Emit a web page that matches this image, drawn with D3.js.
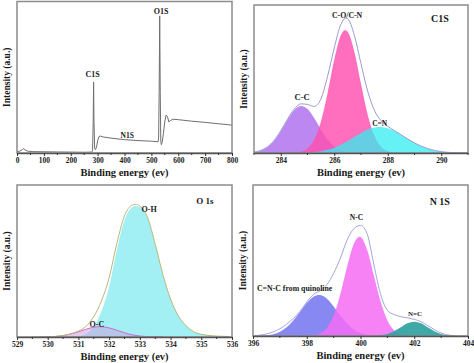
<!DOCTYPE html>
<html><head><meta charset="utf-8">
<script src="https://cdn.jsdelivr.net/npm/d3@7"></script>
<style>
body{margin:0;background:#fff}
svg{display:block}
text{font-family:"Liberation Serif","Times New Roman",serif;font-weight:bold;fill:#1a1a1a}
</style>
</head><body><svg id="c" width="474" height="363"></svg>
<script>
// ---------- DATA (binding energy eV, intensity a.u. in % of panel height) ----------
const xTitle = "Binding energy (ev)";
const yTitle = "Intensity (a.u.)";

// Survey spectrum
const surveyTicks = [0,100,200,300,400,500,600,700,800];
const surveyMinor = [50,150,250,350,450,550,650,750];
const survey = [[0,0.9],[10,1.2],[20,2.2],[25,3.0],[30,2.0],[40,1.2],[60,0.9],[100,0.8],[150,0.7],[200,0.6],[250,0.5],[278,0.6],[281,1.5],[283.5,20],[285,46.9],[286.5,20],[289,3],[292,2.2],[296,4],[300,8],[305,10.8],[310,11.2],[320,10.6],[350,9.8],[400,8.8],[450,8.2],[500,7.8],[525,7.4],[527,10],[529,40],[531,90.5],[533,40],[535,8],[537,5.5],[540,7],[545,13],[550,21],[555,25],[560,24],[565,20.5],[570,21.3],[580,22.3],[600,22.0],[650,21.0],[700,20.2],[750,19.3],[800,18.4]];
const surveyLabels = [["C1S",281,50],["N1S",410,10],["O1S",536,92]];

// C1s
const c1sTicks = [284,286,288,290];
const c1sMinor = [283,285,287,289,291];
const c1sCC = [[283,0.54],[283.25,1.58],[283.5,3.91],[283.75,8.22],[284,14.71],[284.25,22.37],[284.5,28.93],[284.75,31.78],[285,29.69],[285.25,23.57],[285.5,15.9],[285.75,9.12],[286,4.45],[286.25,1.84],[286.5,0.65],[286.75,0.19],[287,0.05],[287.25,0]];
const c1sCO = [[284.25,0.03],[284.5,0.2],[284.75,0.87],[285,3.11],[285.25,8.99],[285.5,21.14],[285.75,40.45],[286,62.94],[286.25,79.66],[286.4,83.0],[286.5,81.99],[286.75,68.65],[287,46.74],[287.25,25.89],[287.5,11.66],[287.75,4.27],[288,1.27],[288.25,0.31],[288.5,0.06],[288.75,0]];
const c1sCN = [[284.5,0.06],[285,0.32],[285.25,0.65],[285.5,1.24],[285.75,2.19],[286,3.62],[286.25,5.58],[286.5,8.03],[286.75,10.79],[287,13.52],[287.25,15.81],[287.5,17.25],[287.75,17.56],[288,16.69],[288.25,14.79],[288.5,12.24],[288.75,9.44],[289,6.8],[289.25,4.57],[289.5,2.87],[289.75,1.68],[290,0.92],[290.25,0.47],[290.5,0.22],[291,0.04]];
const c1sEnv = [[283,0.6],[283.25,1.7],[283.5,4.1],[283.75,8.5],[284,15],[284.25,22.8],[284.5,29.6],[284.75,33.2],[285,32.8],[285.25,31.5],[285.5,36.5],[285.75,51.8],[286,71],[286.25,87],[286.42,91],[286.5,90.7],[286.75,79.6],[287,60.3],[287.25,41.7],[287.5,28.9],[287.75,21.8],[288,18],[288.25,15.1],[288.5,12.3],[288.75,9.4],[289,6.8],[289.25,4.6],[289.5,2.9],[289.75,1.7],[290,0.9],[290.5,0.2],[291,0]];
const c1sLabels = [["C1S",289.95,88.5],["C-O/C-N",286.48,91],["C-C",284.8,36],["C=N",287.7,18.5]];

// O1s
const o1sTicks = [529,530,531,532,533,534,535,536];
const o1sMinor = [529.5,530.5,531.5,532.5,533.5,534.5,535.5];
const o1sOH = [[530.5,0],[531,0.5],[531.25,2],[531.5,7],[531.75,17],[532,33],[532.25,57],[532.5,77],[532.7,84.5],[532.85,86.2],[533,85.5],[533.25,78.5],[533.5,61],[533.75,41],[534,25],[534.25,14],[534.5,7.5],[534.75,3.5],[535,1.8],[535.25,1],[535.5,0.6],[535.9,0.3]];
const o1sOC = [[529.75,0],[530,0.12],[530.25,0.37],[530.5,0.92],[530.75,1.94],[531,3.44],[531.25,5.13],[531.5,6.43],[531.7,6.8],[532,6.0],[532.25,4.47],[532.5,2.8],[532.75,1.47],[533,0.65],[533.25,0.24],[533.5,0.08],[533.75,0]];
const o1sEnv = [[529.5,0],[529.75,0.02],[530,0.12],[530.25,0.37],[530.5,1.0],[530.75,2.1],[531,3.9],[531.25,7.1],[531.5,13.4],[531.75,23.8],[532,39],[532.25,61.5],[532.5,79.8],[532.75,86.8],[532.85,87.3],[533,86.2],[533.25,78.7],[533.5,61.1],[533.75,41],[534,25],[534.25,14],[534.5,7.5],[534.75,3.5],[535,1.8],[535.25,1],[535.5,0.6],[535.9,0.3]];
const o1sLabels = [["O 1s",535.12,87.5],["O-H",533.3,82.5],["O-C",531.6,6.8]];

// N1s
const n1sTicks = [396,398,400,402,404];
const n1sMinor = [397,399,401,403];
const n1sQuin = [[396,0.04],[396.25,0.15],[396.5,0.45],[396.75,1.2],[397,2.8],[397.25,5.73],[397.5,10.25],[397.75,16.0],[398,21.8],[398.25,26.05],[398.45,27.2],[398.5,27.1],[398.75,24.7],[399,19.6],[399.25,13.6],[399.5,8.26],[399.75,4.38],[400,2.03],[400.25,0.82],[400.5,0.29],[400.75,0.09],[401,0.02]];
const n1sNC = [[398,0.09],[398.25,0.44],[398.5,1.7],[398.75,5.34],[399,13.5],[399.25,27.7],[399.5,45.8],[399.75,61.0],[399.96,65.8],[400,65.6],[400.25,56.96],[400.5,39.9],[400.75,22.6],[401,10.3],[401.25,3.79],[401.5,1.13],[401.75,0.27],[402,0.05]];
const n1sNdC = [[400.5,0.11],[400.75,0.42],[401,1.29],[401.25,3.08],[401.5,5.76],[401.75,8.38],[402,9.5],[402.25,8.38],[402.5,5.76],[402.75,3.08],[403,1.29],[403.25,0.42],[403.5,0.11]];
const n1sEnv = [[396,0],[396.25,0.6],[396.5,1.3],[396.75,2.7],[397,4.8],[397.25,7.8],[397.5,11.6],[397.75,16.3],[398,22.5],[398.25,27.5],[398.5,30],[398.75,34],[399,41.5],[399.25,51.5],[399.5,63.5],[399.75,71],[400,73.2],[400.25,67.5],[400.5,47],[400.75,27.5],[401,17],[401.25,14.2],[401.5,12.8],[401.75,12],[402,11],[402.25,9.5],[402.5,7],[402.75,4.2],[403,2],[403.25,0.7],[403.5,0.2]];
const n1sLabels = [["N 1S",402.95,86.5],["N-C",399.85,76.5],["C=N-C from quinoline",397.55,29.8],["N=C",402.03,13.5]];

// ---------- DRAW ----------
const svg = d3.select("#c");
let clipId = 0;

function panel(cfg){
  const x = d3.scaleLinear().domain(cfg.xd).range([cfg.l, cfg.r]);
  const y = d3.scaleLinear().domain([0,100]).range([cfg.b, cfg.t]);
  const g = svg.append("g");
  const id = "clip" + (clipId++);
  g.append("clipPath").attr("id", id).append("rect")
    .attr("x", cfg.l).attr("y", cfg.t).attr("width", cfg.r - cfg.l).attr("height", cfg.b - cfg.t);
  const plot = g.append("g").attr("clip-path", `url(#${id})`);
  const area = d3.area().x(d=>x(d[0])).y0(y(0)).y1(d=>y(d[1])).curve(d3.curveMonotoneX);
  const line = d3.line().x(d=>x(d[0])).y(d=>y(d[1])).curve(cfg.curve || d3.curveMonotoneX);
  (cfg.fills||[]).forEach(s=>{
    plot.append("path").datum(s.data).attr("d", area)
      .attr("fill", s.fill).attr("fill-opacity", s.op)
      .attr("stroke", s.stroke || "none").attr("stroke-width", 0.8);
  });
  (cfg.lines||[]).forEach(s=>{
    plot.append("path").datum(s.data).attr("d", line)
      .attr("fill","none").attr("stroke", s.stroke).attr("stroke-width", s.w || 1);
  });
  // frame
  g.append("rect").attr("x", cfg.l).attr("y", cfg.t).attr("width", cfg.r-cfg.l).attr("height", cfg.b-cfg.t)
    .attr("fill","none").attr("stroke","#8c8c8c").attr("stroke-width",1.5);
  // axis
  const ax = g.append("g").attr("transform", `translate(0,${cfg.b})`)
    .call(d3.axisBottom(x).tickValues(cfg.ticks).tickSize(3).tickSizeOuter(0).tickFormat(d3.format("d")));
  ax.select(".domain").attr("stroke","#555").attr("stroke-width",1.3);
  ax.selectAll(".tick line").attr("stroke","#333");
  ax.selectAll(".tick text").attr("font-size", 7.5).attr("fill","#222")
    .attr("font-family",'"Liberation Serif",serif').attr("font-weight","bold").attr("y",5);
  ax.selectAll(".minor").data(cfg.minor).enter().append("line").attr("class","minor")
    .attr("x1", d=>x(d)).attr("x2", d=>x(d)).attr("y1",0).attr("y2",2).attr("stroke","#333");
  // titles
  g.append("text").attr("x", (cfg.l+cfg.r)/2).attr("y", cfg.b + 23).attr("text-anchor","middle")
    .attr("font-size", 10.5).text(xTitle);
  g.append("text").attr("transform", `translate(${cfg.l-7},${(cfg.t+cfg.b)/2}) rotate(-90)`)
    .attr("text-anchor","middle").attr("font-size", 9.5).text(yTitle);
  // labels
  cfg.labels.forEach((lb,i)=>{
    g.append("text").attr("x", x(lb[1])).attr("y", y(lb[2])).attr("text-anchor","middle")
      .attr("font-size", (cfg.labelSizes||[])[i] || 8).text(lb[0]);
  });
}

panel({xd:[0,800], l:17, r:232, t:1.5, b:153, ticks:surveyTicks, minor:surveyMinor,
  curve: d3.curveLinear,
  lines:[{data:survey, stroke:"#6e6e6e", w:1}],
  labels:surveyLabels, labelSizes:[8,7.5,8]});

panel({xd:[283,291], l:254, r:468, t:5, b:153, ticks:c1sTicks, minor:c1sMinor,
  fills:[{data:c1sCC, fill:"#b57af0", op:0.9},{data:c1sCO, fill:"#ff4fae", op:0.82},{data:c1sCN, fill:"#33eef0", op:0.75}],
  lines:[{data:c1sEnv, stroke:"#9a9ad6", w:1}],
  labels:c1sLabels, labelSizes:[10,7.8,8.5,7.5]});

panel({xd:[529,536], l:17, r:232, t:185, b:337, ticks:o1sTicks, minor:o1sMinor,
  fills:[{data:o1sOH, fill:"#a2f0f4", op:1},{data:o1sOC, fill:"#c8a2e0", op:0.55, stroke:"#d050c8"}],
  lines:[{data:o1sEnv, stroke:"#b8b878", w:1}],
  labels:o1sLabels, labelSizes:[9,8,8]});

panel({xd:[396,404], l:253, r:468, t:185, b:336, ticks:n1sTicks, minor:n1sMinor,
  fills:[{data:n1sQuin, fill:"#8282f2", op:0.95},{data:n1sNC, fill:"#f46cf4", op:0.85},{data:n1sNdC, fill:"#35a3a3", op:0.95}],
  lines:[{data:n1sEnv, stroke:"#a4a4de", w:1}],
  labels:n1sLabels, labelSizes:[10,7.5,7.8,7]});
</script></body></html>
